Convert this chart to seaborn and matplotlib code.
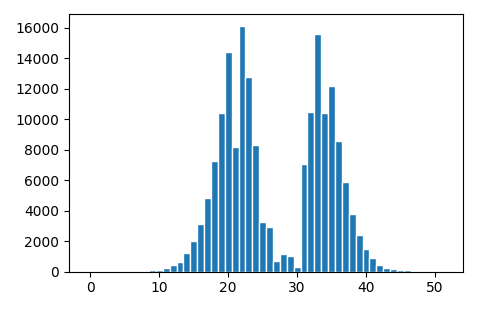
import matplotlib
matplotlib.use("Agg")
import matplotlib.pyplot as plt
import seaborn as sns
import numpy as np

positions = list(range(0, 52))
counts = [0, 0, 0, 0, 0, 0, 0, 0, 0, 80,
          80, 220, 420, 660, 1210, 2000, 3140, 4850, 7270, 10430,
          14400, 8210, 16110, 12780, 8340, 3270, 2940, 700, 1140, 1010,
          310, 7070, 10470, 15580, 10380, 12160, 8600, 5880, 3800, 2390,
          1470, 860, 460, 240, 150, 90, 90, 0, 0, 0,
          0, 0]
xticks = [0, 10, 20, 30, 40, 50]
yticks = [0, 2000, 4000, 6000, 8000, 10000, 12000, 14000, 16000]

fig = plt.figure(figsize=(5.04, 3.10), dpi=100)
ax = fig.add_axes([0.137, 0.124, 0.782, 0.831])
sns.histplot(x=positions, weights=counts, discrete=True, shrink=1.0,
             color="#1f77b4", edgecolor="white", linewidth=1.0, alpha=1.0, ax=ax)
ax.set_ylabel("")
ax.set_xlabel("")
ax.set_xticks(xticks)
ax.set_yticks(yticks)
ax.set_xlim(-3.1, 54.1)
ax.set_ylim(0, 16110 * 1.05)
ax.tick_params(labelsize=10)
fig.savefig("out.png", dpi=100)
